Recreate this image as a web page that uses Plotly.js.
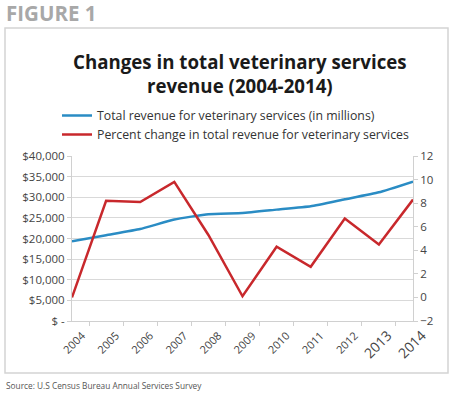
<!DOCTYPE html>
<html><head><meta charset="utf-8">
<script src="https://cdn.plot.ly/plotly-3.0.1.min.js"></script>
<style>html,body{margin:0;padding:0;background:#fff}#chart{width:450px;height:396px}</style>
</head><body><div id="chart"></div>
<script>
const years = ['2004','2005','2006','2007','2008','2009','2010','2011','2012','2013','2014'];
const yearLabels = ['2004','2005','2006','2007','2008','2009','2010','2011','2012',
  '<span style="font-size:14px">2013</span>','<span style="font-size:14px">2014</span>'];
const revenue = [19300, 20800, 22300, 24600, 25900, 26200, 27000, 27800, 29500, 31200, 33800];
const pctChange = [0, 8.2, 8.1, 9.8, 5.3, 0.1, 4.3, 2.6, 6.7, 4.5, 8.3];
const leftTicks = [0,5000,10000,15000,20000,25000,30000,35000,40000];
const leftTickText = ['$ -','$5,000','$10,000','$15,000','$20,000','$25,000','$30,000','$35,000','$40,000'];
const rightTicks = [-2,0,2,4,6,8,10,12];

const L=72, R=413, T=156, B=321, W=R-L, H=B-T;
const px = x => (x-L)/W, py = y => (B-y)/H;

const traces = [
  {x: years, y: revenue, type:'scatter', mode:'lines', name:'Total revenue for veterinary services (in millions)',
   line:{color:'#2a8cc4', width:2.5, shape:'spline', smoothing:0.4}, yaxis:'y'},
  {x: years, y: pctChange, type:'scatter', mode:'lines', name:'Percent change in total revenue for veterinary services',
   line:{color:'#c8282c', width:2.5}, yaxis:'y2'}
];
const axFont = {family:'Open Sans, sans-serif', size:11, color:'#444'};
const layout = {
  width:450, height:396, margin:{l:L, r:450-R, t:T, b:396-B, pad:0},
  paper_bgcolor:'#fff', plot_bgcolor:'#fff', showlegend:true,
  font:{family:'Open Sans, sans-serif'},
  xaxis:{type:'category', tickson:'boundaries', tickvals:years, ticktext:yearLabels, tickangle:-45,
    ticklabelshift:10, ticklabelstandoff:3,
    tickfont:axFont, showgrid:false, showline:true, linecolor:'#d0d0d0', ticks:'outside', ticklen:4, tickcolor:'#d0d0d0',
    zeroline:false},
  yaxis:{range:[0,40000], tickvals:leftTicks, ticktext:leftTickText, tickfont:{family:'Open Sans, sans-serif', size:11.5, color:'#444'}, showgrid:true,
    gridcolor:'#d9d9d9', showline:true, linecolor:'#d0d0d0', ticks:'outside', ticklen:4, tickcolor:'#d0d0d0', zeroline:false},
  yaxis2:{range:[-2,12], tickvals:rightTicks, overlaying:'y', side:'right', tickfont:{family:'Open Sans, sans-serif', size:11.5, color:'#444'}, showgrid:false,
    showline:true, linecolor:'#d0d0d0', ticks:'outside', ticklen:4, tickcolor:'#d0d0d0', zeroline:false},
  legend:{x:px(57), y:py(101), xanchor:'left', yanchor:'top', bgcolor:'rgba(0,0,0,0)',
    font:{family:'Open Sans, sans-serif', size:12.3, color:'#333'}, tracegroupgap:0},
  shapes:[{type:'rect', xref:'paper', yref:'paper', x0:px(5), x1:px(448), y0:py(373), y1:py(28),
    line:{color:'#d4d4d4', width:1.5}, fillcolor:'rgba(0,0,0,0)', layer:'below'}],
  annotations:[
    {text:'<b>FIGURE 1</b>', xref:'paper', yref:'paper', x:px(4), y:py(29), xanchor:'left', yanchor:'bottom',
     showarrow:false, font:{family:'Open Sans, sans-serif', size:20.5, color:'#a8a8a8'}},
    {text:'<b>Changes in total veterinary services<br>revenue (2004-2014)</b>', xref:'paper', yref:'paper',
     x:px(240), y:py(74), xanchor:'center', yanchor:'middle', showarrow:false,
     font:{family:'Open Sans, sans-serif', size:18.7, color:'#1a1a1a'}},
    {text:'Source: U.S Census Bureau Annual Services Survey', xref:'paper', yref:'paper', x:px(4), y:py(385),
     xanchor:'left', yanchor:'middle', showarrow:false, font:{family:'Open Sans, sans-serif', size:8.3, color:'#555'}}
  ]
};
Plotly.newPlot('chart', traces, layout, {displayModeBar:false, staticPlot:true});
</script></body></html>
